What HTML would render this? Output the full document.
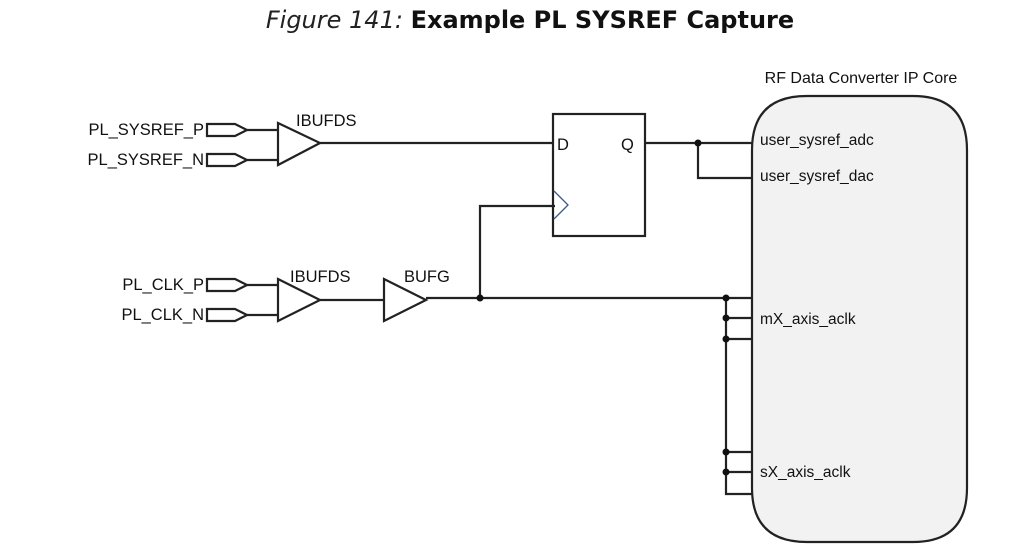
<!DOCTYPE html>
<html><head><meta charset="utf-8"><style>
html,body{margin:0;padding:0;background:#fff;}
svg{display:block;}
text{font-family:"Liberation Sans",sans-serif;fill:#111;}
</style></head><body>
<svg width="1030" height="549" viewBox="0 0 1030 549" xmlns="http://www.w3.org/2000/svg">
<text x="530" y="28" text-anchor="middle" font-size="24" style="font-family:'DejaVu Sans','Liberation Sans',sans-serif"><tspan font-style="italic" fill="#222">Figure 141:</tspan> <tspan font-weight="bold">Example PL SYSREF Capture</tspan></text>
<text x="861" y="83" text-anchor="middle" font-size="16">RF Data Converter IP Core</text>
<path d="M752,150 Q752,96 807,96 L913,96 Q967,96 967,150 L967,488 Q967,542 913,542 L807,542 Q752,542 752,488 Z" fill="#f2f2f2" stroke="#222" stroke-width="2.2"/>
<g fill="none" stroke="#222" stroke-width="2.2">
<path d="M207,124 h28 l12,6 l-12,6 h-28 z"/>
<path d="M207,154 h28 l12,6 l-12,6 h-28 z"/>
<path d="M207,279 h28 l12,6 l-12,6 h-28 z"/>
<path d="M207,309 h28 l12,6 l-12,6 h-28 z"/>
<path d="M247,130 h31 M247,160 h31 M247,285 h31 M247,315 h31"/>
<path d="M278,123 L320,143 L278,165 Z"/>
<path d="M278,279 L320,300 L278,321 Z"/>
<path d="M384,279 L426,300 L384,321 Z"/>
<path d="M320,143 H553"/>
<path d="M320,300 H384"/>
<path d="M426,298 H752"/>
<path d="M480,298 V206 H555"/>
<rect x="553" y="114" width="92" height="122"/>
<path d="M645,143 H752 M698,143 V178 H752"/>
<path d="M726,298 V494 H752 M726,318 H752 M726,339 H752 M726,452 H752 M726,472 H752"/>
</g>
<path d="M554,191 L568,205 L554,219" fill="none" stroke="#3a5a8a" stroke-width="1.3"/>
<g fill="#111">
<circle cx="698" cy="143" r="3.5"/><circle cx="480" cy="298" r="3.5"/>
<circle cx="726" cy="298" r="3.5"/><circle cx="726" cy="318" r="3.5"/><circle cx="726" cy="339" r="3.5"/>
<circle cx="726" cy="452" r="3.5"/><circle cx="726" cy="472" r="3.5"/>
</g>
<g font-size="16.5">
<text x="204" y="135" text-anchor="end">PL_SYSREF_P</text>
<text x="204" y="165" text-anchor="end">PL_SYSREF_N</text>
<text x="204" y="290" text-anchor="end">PL_CLK_P</text>
<text x="204" y="320" text-anchor="end">PL_CLK_N</text>
<text x="296" y="126">IBUFDS</text>
<text x="290" y="282">IBUFDS</text>
<text x="404" y="282">BUFG</text>
<text x="557" y="150">D</text>
<text x="621" y="150">Q</text>
<text x="760" y="145" font-size="15.5">user_sysref_adc</text>
<text x="760" y="181" font-size="15.5">user_sysref_dac</text>
<text x="760" y="324" font-size="15.5">mX_axis_aclk</text>
<text x="760" y="477" font-size="15.5">sX_axis_aclk</text>
</g>
</svg>
</body></html>
